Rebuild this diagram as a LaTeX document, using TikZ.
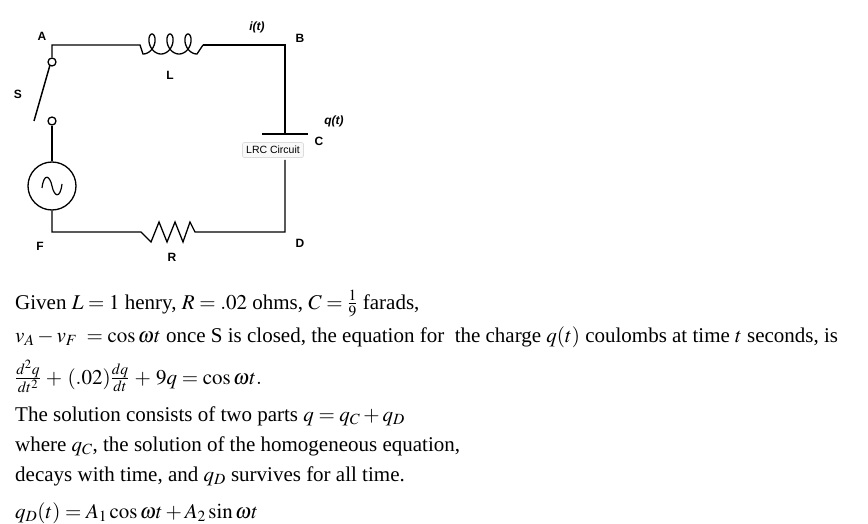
\documentclass[tikz,border=0pt]{standalone}
\usepackage{mathptmx}
\usepackage[no-math]{fontspec}
\setmainfont{Liberation Serif}
\newfontfamily\lab{Liberation Sans}
\begin{document}
\begin{tikzpicture}[x=1pt,y=-1pt,
  wire/.style={line width=1.3pt},
  term/.style={circle,draw,line width=1.3pt,minimum size=8pt,inner sep=0,fill=white},
  lbl/.style={font=\lab\bfseries\fontsize{12}{14}\selectfont},
  body/.style={anchor=base west,inner sep=0,font=\fontsize{21}{24}\selectfont}]
\useasboundingbox[fill=white] (0,0) rectangle (868,524);
\coordinate (A) at (52,45); \coordinate (B) at (285,45);
\coordinate (D) at (285,232); \coordinate (F) at (52,232);
\coordinate (Ls) at (137,45); \coordinate (Le) at (203,45);
\coordinate (Rs) at (141,232); \coordinate (Re) at (195,232);
\coordinate (C1) at (285,134); \coordinate (C2) at (285,160);
\node[term] (T1) at (52,62) {};
\node[term] (T2) at (52,121) {};
\node[circle,draw,line width=1.3pt,minimum size=48pt,inner sep=0] (V) at (52,186) {};
\draw[wire] (T1) -- (A) -- (Ls) -- (140,45)
  -- plot[domain=0:1080,samples=120,smooth] ({143+\x/20+7*sin(\x)},{44+10*cos(\x)}) -- (Le);
\draw[wire] (Le) -- (B) -- (C1);
\draw[line width=1.3pt] (262,134) -- (308,134);
\draw[wire] (C2) -- (D) -- (Re) -- (190,222) -- (183,242) -- (175,222) -- (167,242) -- (159,222) -- (151,242) -- (Rs) -- (F) -- (V);
\draw[wire] (V) -- (T2);
\draw[line width=1.5pt] (34,121) -- (50,65);
\draw[line width=1.2pt] (42,188) .. controls (44,172) and (50,176) .. (52,186) .. controls (54,196) and (60,200) .. (62,184);
\node[draw=gray!40,fill=gray!5,rounded corners=1pt,inner sep=3.5pt,font=\lab\fontsize{10.5}{12}\selectfont] (tip) at (273,150) {LRC Circuit};
\node[lbl] (la) at (42,36) {A};
\node[lbl] (lb) at (300,38) {B};
\node[lbl] (lc) at (319,141) {C};
\node[lbl] (ld) at (300,243) {D};
\node[lbl] (lf) at (40,246) {F};
\node[lbl] (ls) at (18,94) {S};
\node[lbl] (ll) at (170,75) {L};
\node[lbl] (lr) at (172,257) {R};
\node[font=\lab\bfseries\itshape\fontsize{12}{14}\selectfont] (li) at (257,27) {i(t)};
\node[font=\lab\bfseries\itshape\fontsize{12}{14}\selectfont] (lq) at (334,121) {q(t)};
\node[body] (t1) at (15,309) {Given $L=1$ henry, $R=.02$ ohms, $C=\frac19$ farads,};
\node[body] (t2) at (15,342) {$v_A-v_F\;=\cos\omega t$ once S is closed, the equation for\ \ the charge $q(t)$ coulombs at time $t$ seconds, is};
\node[body] (t3) at (15,384) {$\frac{d^2q}{dt^2}\,+\,(.02)\frac{dq}{dt}\,+\,9q=\cos\omega t.$};
\node[body] (t4) at (15,421) {The solution consists of two parts $q=q_C+q_D$};
\node[body] (t5) at (15,451) {where $q_C$, the solution of the homogeneous equation,};
\node[body] (t6) at (15,481) {decays with time, and $q_D$ survives for all time.};
\node[body] (t7) at (15,518) {$q_D(t)=A_1\cos\omega t+A_2\sin\omega t$};
\end{tikzpicture}
\end{document}
